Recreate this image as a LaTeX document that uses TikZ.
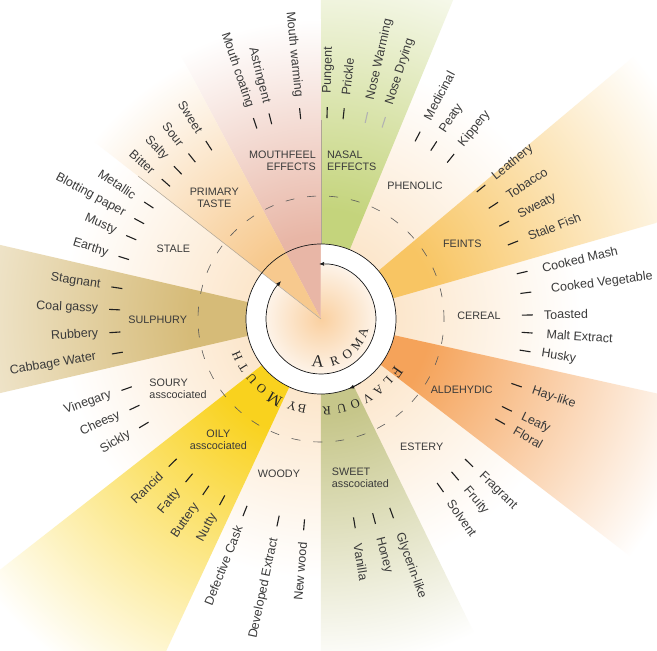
\documentclass[tikz,border=0pt]{standalone}
\usepackage{fontspec}
\setmainfont{Liberation Sans}
\newfontfamily\capsfont{Liberation Serif}
\usetikzlibrary{arrows.meta}
\definecolor{txt}{HTML}{3A3A3A}
\definecolor{pale}{HTML}{FCE6CB}
\definecolor{nasal}{HTML}{C4D47C}
\definecolor{mouthfeel}{HTML}{E8B6A6}
\definecolor{primary}{HTML}{F7C98E}
\definecolor{sulphury}{HTML}{D6BB78}
\definecolor{oily}{HTML}{F9D21E}
\definecolor{sweet}{HTML}{C6C68A}
\definecolor{aldehydic}{HTML}{F5A35A}
\definecolor{feints}{HTML}{F8C563}
\definecolor{discin}{HTML}{FAD0A0}
\definecolor{discout}{HTML}{FDF3E8}
\definecolor{edgegray}{HTML}{AFA596}
\colorlet{wcol}{white}
\pgfdeclareradialshading[wcol]{wedgeshade}{\pgfpointorigin}{color(0bp)=(wcol); color(7bp)=(wcol); color(25bp)=(white); color(50bp)=(white)}
\newcounter{lab}
\newcommand{\wedgefill}[4]{%
  \colorlet{wcol}{#3}%
  \begin{scope}
    \clip (0,0) -- (#1:#4) arc[start angle=#1, end angle=#2, radius=#4] -- cycle;
    \shade[shading=wedgeshade] (0,0) circle[radius=#4];
  \end{scope}}
\newcommand{\flav}[4][223]{%
  \stepcounter{lab}%
  \draw[tickline,#4] (#2:201) -- (#2:212);
  \pgfmathsetmacro{\ca}{cos(#2)}%
  \ifdim \ca pt > 0pt
    \node[itemlabel, rotate=#2, anchor=west] (item\arabic{lab}) at (#2:#1) {#3};
  \else
    \node[itemlabel, rotate=#2+180, anchor=east] (item\arabic{lab}) at (#2:#1) {#3};
  \fi}
\begin{document}
\begin{tikzpicture}[x=1pt,y=1pt,
  tickline/.style={line width=1.1pt},
  tickdark/.style={draw=black!88},
  ticklight/.style={draw=black!30},
  itemlabel/.style={font=\fontsize{12.5}{14}\selectfont, text=txt, inner sep=0pt},
  catlabel/.style={font=\fontsize{10.8}{11.7}\selectfont, text=txt, inner sep=0pt, align=center},
  ringline/.style={line width=0.7pt, draw=black!90},
  arr/.style={-{Latex[length=5pt,width=4pt]}},
  arrboth/.style={{Latex[length=5pt,width=4pt]}-{Latex[length=5pt,width=4pt]}},
  letter/.style={anchor=base, inner sep=0pt, text=black!85}
]
\useasboundingbox (-321,-332) rectangle (336,319);
\fill[white] (-321,-332) rectangle (336,319);

% background pale glow
\wedgefill{0}{360}{pale}{260}
% coloured wedges
\wedgefill{67.5}{90}{nasal}{390}
\wedgefill{90}{118}{mouthfeel}{300}
\wedgefill{118}{142}{primary}{290}
\wedgefill{167}{193}{sulphury}{470}
\wedgefill{-142}{-115}{oily}{430}
\wedgefill{-90}{-64}{sweet}{350}
\wedgefill{-37.5}{-12.5}{aldehydic}{390}
\wedgefill{16}{40}{feints}{410}

% dashed circle
\draw[dash pattern=on 9pt off 13pt, line width=0.6pt, draw=black!65] (0,0) circle[radius=123];

% ring and disc
\fill[white] (0,0) -- (142:75) arc[start angle=142, end angle=450, radius=75] -- cycle;
\begin{scope}
  \clip (0,0) -- (142:55) arc[start angle=142, end angle=450, radius=55] -- cycle;
  \shade[inner color=discin, outer color=discout] (0,0) circle[radius=55];
\end{scope}

% wedge edge lines
\draw[line width=0.5pt, draw=edgegray] (0,0) -- (142:232);
\draw[line width=0.5pt, draw=edgegray] (90:75) -- (90:199);

% circles and arrows
\draw[ringline] (0,0) circle[radius=75];
\draw[ringline, arr] (-58:75) arc[start angle=-58, end angle=-68, radius=75];
\draw[ringline, arrboth] (92:55) arc[start angle=92, end angle=-223.5, radius=55];

% AROMA
\foreach \a/\c/\s [count=\i] in {-94/A/17, -72/R/13, -53.5/O/13, -35/M/13, -18/A/13}
  \node[letter, rotate=\a+90, font=\capsfont\fontsize{\s}{\s}\selectfont] (aroma\i) at (\a:48.5) {\c};
% FLAVOUR BY MOUTH
\foreach \a/\c/\s [count=\i] in {-35/F/16, -43/L/12.5, -51/A/12.5, -59.5/V/12.5, -68/O/12.5, -77/U/12.5, -86.5/R/12.5, -102/B/12.5, -108.5/Y/12.5, -120/M/16, -130.5/O/12.5, -139/U/12.5, -148/T/12.5, -156/H/12.5}
  \node[letter, rotate=\a-90, font=\capsfont\fontsize{\s}{\s}\selectfont] (flavour\i) at (\a:87.5) {\c};

% category labels
\node[catlabel, anchor=east, align=right] (mouthfeel) at (-5,158) {MOUTHFEEL\\EFFECTS};
\node[catlabel, anchor=west, align=left] (nasal) at (6,158) {NASAL\\EFFECTS};
\node[catlabel] (phenolic) at (94,133.3) {PHENOLIC};
\node[catlabel] (feints) at (141.3,75.7) {FEINTS};
\node[catlabel] (cereal) at (158,3) {CEREAL};
\node[catlabel] (aldehydic) at (140.7,-71) {ALDEHYDIC};
\node[catlabel] (estery) at (100.7,-127.7) {ESTERY};
\node[catlabel, anchor=west, align=left] (sweet) at (10.7,-159) {SWEET\\asscociated};
\node[catlabel] (woody) at (-42,-155) {WOODY};
\node[catlabel] (oily) at (-102.7,-120.5) {OILY\\asscociated};
\node[catlabel, anchor=west, align=left] (soury) at (-171.7,-70) {SOURY\\asscociated};
\node[catlabel] (sulphury) at (-163.3,-1) {SULPHURY};
\node[catlabel] (stale) at (-147.7,70.3) {STALE};
\node[catlabel] (primary) at (-106.7,121.5) {PRIMARY\\TASTE};

% items
\flav{108.6}{Mouth coating}{tickdark}
\flav{104.2}{Astringent}{tickdark}
\flav{95.8}{Mouth warming}{tickdark}
\flav[225]{88.3}{Pungent}{tickdark}
\flav[225]{83.7}{Prickle}{tickdark}
\flav[225]{77.3}{Nose Warming}{ticklight}
\flav[225]{72.3}{Nose Drying}{ticklight}
\flav[226]{62.1}{Medicinal}{tickdark}
\flav{56.9}{Peaty}{tickdark}
\flav{51.1}{Kippery}{tickdark}
\flav{39.2}{Leathery}{tickdark}
\flav{33.4}{Tobacco}{tickdark}
\flav{27.5}{Sweaty}{tickdark}
\flav{21.6}{Stale Fish}{tickdark}
\flav[227]{13}{Cooked Mash}{tickdark}
\flav[232]{7.3}{Cooked Vegetable}{tickdark}
\flav{1.1}{Toasted}{tickdark}
\flav[226]{-3.8}{Malt Extract}{tickdark}
\flav{-8.9}{Husky}{tickdark}
\flav{-18.7}{Hay-like}{tickdark}
\flav{-25.8}{Leafy}{tickdark}
\flav{-29.8}{Floral}{tickdark}
\flav{-44.2}{Fragrant}{tickdark}
\flav{-49.5}{Fruity}{tickdark}
\flav{-54.7}{Solvent}{tickdark}
\flav[228]{-70}{Glycerin-like}{tickdark}
\flav[226]{-75.1}{Honey}{tickdark}
\flav[228]{-80.7}{Vanilla}{tickdark}
\flav[224]{-94.7}{New wood}{tickdark}
\flav[224]{-102}{Developed Extract}{tickdark}
\flav{-111.6}{Defective Cask}{tickdark}
\flav{-118.6}{Nutty}{tickdark}
\flav{-123.9}{Buttery}{tickdark}
\flav{-129.7}{Fatty}{tickdark}
\flav{-135.9}{Rancid}{tickdark}
\flav{-149.1}{Sickly}{tickdark}
\flav{-154.6}{Cheesy}{tickdark}
\flav{-160.3}{Vinegary}{tickdark}
\flav[228]{189.5}{Cabbage Water}{tickdark}
\flav{183.7}{Rubbery}{tickdark}
\flav{177.4}{Coal gassy}{tickdark}
\flav{171.3}{Stagnant}{tickdark}
\flav{162.8}{Earthy}{tickdark}
\flav{156.8}{Musty}{tickdark}
\flav{151.7}{Blotting paper}{tickdark}
\flav{146.5}{Metallic}{tickdark}
\flav{138.7}{Bitter}{tickdark}
\flav{133.9}{Salty}{tickdark}
\flav{128.7}{Sour}{tickdark}
\flav{122.9}{Sweet}{tickdark}
\end{tikzpicture}
\end{document}
